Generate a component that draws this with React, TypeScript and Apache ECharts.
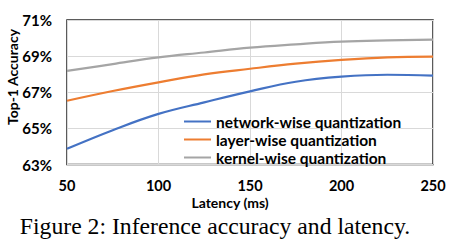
import React, { useEffect, useRef } from "react";
import * as echarts from "echarts";

const latency = [50, 75, 100, 125, 150, 175, 200, 225, 250];
const networkWise = [63.87, 64.9, 65.8, 66.44, 67.05, 67.58, 67.86, 67.97, 67.92];
const layerWise = [66.53, 67.07, 67.55, 67.99, 68.3, 68.58, 68.79, 68.93, 68.97];
const kernelWise = [68.18, 68.56, 68.93, 69.2, 69.47, 69.65, 69.8, 69.87, 69.91];
const seriesNames = ["network-wise quantization", "layer-wise quantization", "kernel-wise quantization"];
const seriesColors = ["#4472C4", "#ED7D31", "#A5A5A5"];
const xTitle = "Latency (ms)";
const yTitle = "Top-1 Accuracy";
const caption = "Figure 2: Inference accuracy and latency.";

const FONT = "Lato, 'Liberation Sans', sans-serif";

export default function App() {
  const ref = useRef<HTMLDivElement>(null);
  useEffect(() => {
    if (!ref.current) return;
    const chart = echarts.init(ref.current, null, { renderer: "svg" });
    const values = [networkWise, layerWise, kernelWise];
    chart.setOption({
      animation: false,
      backgroundColor: "#ffffff",
      grid: {
        left: 67,
        right: 41,
        top: 20,
        bottom: 75.5,
        show: true,
        borderColor: "#262626",
        borderWidth: 1.5,
        backgroundColor: "transparent",
      },
      xAxis: {
        type: "value",
        min: 50,
        max: 250,
        interval: 50,
        axisLine: { show: false },
        axisTick: { show: false },
        axisLabel: { margin: 13, color: "#000", fontFamily: FONT, fontWeight: "bold", fontSize: 14.5 },
        splitLine: { show: true, lineStyle: { color: "#d9d9d9", width: 1 } },
      },
      yAxis: {
        type: "value",
        min: 63,
        max: 71,
        interval: 1,
        axisLine: { show: false },
        axisTick: { show: false },
        axisLabel: {
          margin: 15,
          color: "#000",
          fontFamily: FONT,
          fontWeight: "bold",
          fontSize: 15,
          formatter: (v: number) => (Math.round(v) % 2 === 1 ? `${v}%` : ""),
        },
        splitLine: { show: true, lineStyle: { color: ["#d9d9d9", "transparent"], width: 1 } },
      },
      legend: {
        orient: "vertical",
        left: 183,
        top: 113.5,
        padding: 0,
        itemWidth: 27,
        itemHeight: 14,
        itemGap: 2,
        itemStyle: { opacity: 0 },
        textStyle: { color: "#000", fontFamily: FONT, fontWeight: "bold", fontSize: 15.5 },
        data: seriesNames,
      },
      series: seriesNames.map((name, i) => ({
        name,
        type: "line",
        smooth: 0.4,
        symbol: "none",
        color: seriesColors[i],
        lineStyle: { width: 2.2, color: seriesColors[i] },
        data: latency.map((x, j) => [x, values[i][j]]),
      })),
      graphic: [
        {
          type: "text",
          x: 12,
          y: 77,
          rotation: Math.PI / 2,
          style: {
            text: yTitle,
            align: "center",
            verticalAlign: "middle",
            fill: "#000",
            font: `bold 14px ${FONT}`,
          },
        },
        {
          type: "text",
          x: 230,
          y: 202.5,
          style: {
            text: xTitle,
            align: "center",
            verticalAlign: "middle",
            fill: "#000",
            font: `bold 14px ${FONT}`,
          },
        },
        {
          type: "text",
          x: 215,
          y: 226,
          style: {
            text: caption,
            align: "center",
            verticalAlign: "middle",
            fill: "#000",
            font: `23.7px 'Liberation Serif', 'Times New Roman', serif`,
          },
        },
      ],
    });
    return () => chart.dispose();
  }, []);
  return (
    <div
      ref={ref}
      style={{ position: "fixed", left: 0, top: 0, width: 474, height: 240 }}
    />
  );
}
